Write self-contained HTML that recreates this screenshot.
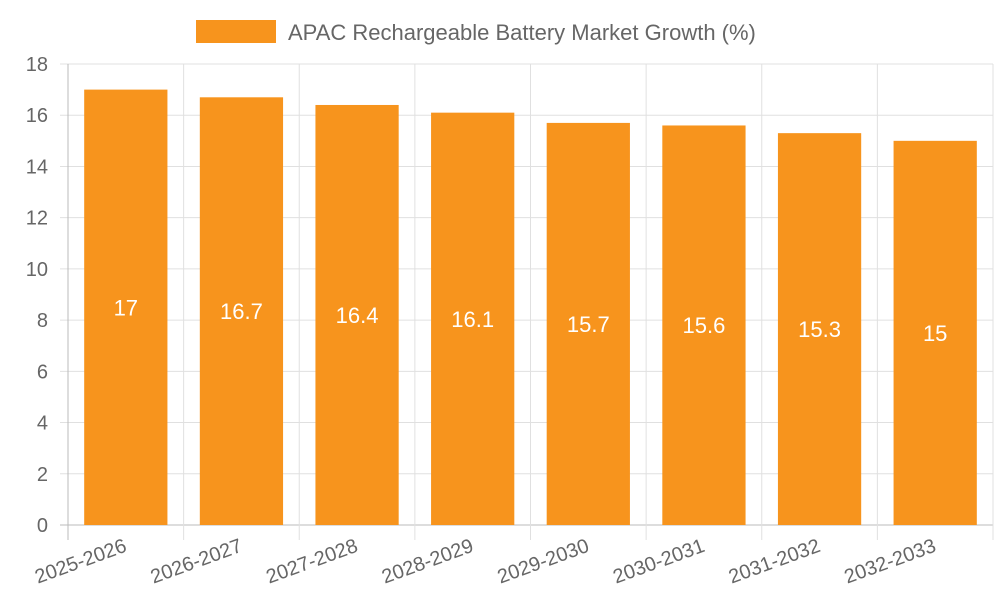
<!DOCTYPE html>
<html><head><meta charset="utf-8"><style>
body{margin:0;background:#fff;}
svg{display:block;font-family:"Liberation Sans",sans-serif;}
</style></head><body>
<svg id="chart" width="1000" height="600">
  <g>
    <rect x="196" y="20" width="80" height="23" fill="#F7941D"></rect>
    <text x="288" y="40" font-size="22" fill="#666">APAC Rechargeable Battery Market Growth (%)</text>
  </g>
  <g id="grid"></g>
  <g id="bars"></g>
  <g id="axes"></g>
</svg>
<script>
const categories = ["2025-2026","2026-2027","2027-2028","2028-2029","2029-2030","2030-2031","2031-2032","2032-2033"];
const values = [17,16.7,16.4,16.1,15.7,15.6,15.3,15];
const yTicks = [0,2,4,6,8,10,12,14,16,18];

const NS="http://www.w3.org/2000/svg";
const L=68,R=993,T=64,B=525,yMax=18;
const bw=(R-L)/categories.length;
const y=v=>B-(v/yMax)*(B-T);
const xc=i=>L+bw*(i+0.5);
function mk(tag,attrs,parent){const e=document.createElementNS(NS,tag);for(const k in attrs)e.setAttribute(k,attrs[k]);parent.appendChild(e);return e;}
const grid=document.getElementById('grid'),bars=document.getElementById('bars'),axes=document.getElementById('axes');

yTicks.forEach(t=>{
  const ln=mk('line',{x1:L-8,x2:R,y1:y(t),y2:y(t),stroke:t===0?'#bbb':'#e0e0e0','stroke-width':1},grid);
  
  
  const tx=mk('text',{x:L-20,y:y(t)+7,'text-anchor':'end','font-size':20,fill:'#666'},axes);
  tx.textContent=t;
  
  
});
for(let i=0;i<=categories.length;i++){
  const x=L+bw*i;
  const ln=mk('line',{x1:x,x2:x,y1:T,y2:B+15,stroke:i===0?'#bbb':'#e0e0e0','stroke-width':1},grid);
  
  
}
categories.forEach((c,i)=>{
  const w=bw*0.72;
  const r=mk('rect',{x:xc(i)-w/2,y:y(values[i]),width:w,height:B-y(values[i]),fill:'#F7941D'},bars);
  
  
  const vt=mk('text',{x:xc(i),y:(y(values[i])+B)/2+8,'text-anchor':'middle','font-size':22,fill:'#fff'},bars);
  vt.textContent=values[i];
  
  
  const lx=xc(i)+2,ly=551;
  const xt=mk('text',{x:lx,y:ly,'text-anchor':'end','font-size':20,fill:'#666',transform:`rotate(-20 ${lx} ${ly})`},axes);
  xt.textContent=c;
  
  
});
</script>
</body></html>
